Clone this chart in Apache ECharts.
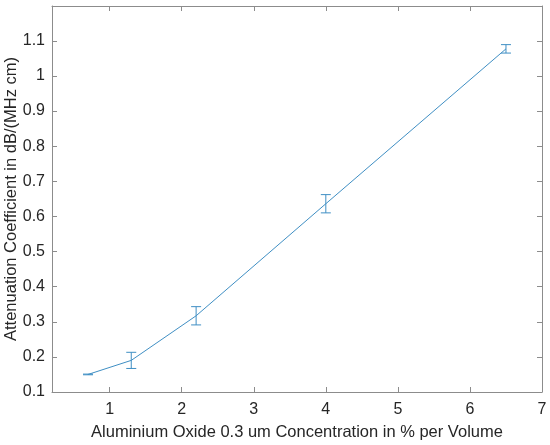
<!DOCTYPE html>
<html>
<head>
<meta charset="utf-8">
<script src="https://cdn.jsdelivr.net/npm/echarts@6/dist/echarts.min.js"></script>
<style>
  html, body { margin: 0; padding: 0; background: #fff; }
  #chart { width: 550px; height: 445px; }
</style>
</head>
<body>
<div id="chart"></div>
<script>
// concentration (% per volume) and attenuation with error bars
var concentration = [0.7, 1.3, 2.2, 4.0, 6.5];
var attenuation = [0.15, 0.19, 0.317, 0.636, 1.077];
var errorSize = [0.001, 0.023, 0.026, 0.026, 0.012];

var xTicks = [1, 2, 3, 4, 5, 6, 7];
var yTicks = [0.1, 0.2, 0.3, 0.4, 0.5, 0.6, 0.7, 0.8, 0.9, 1, 1.1];

var lineColor = '#3f8fc4';
var boxColor = '#8c8c8c';
var textColor = '#262626';
var font = 'Liberation Sans, Arial, sans-serif';

var myChart = echarts.init(document.getElementById('chart'));

var pointData = concentration.map(function (x, i) { return [x, attenuation[i]]; });
var errData = concentration.map(function (x, i) {
  return [x, attenuation[i] - errorSize[i], attenuation[i] + errorSize[i]];
});

function baseX(pos, labels) {
  return {
    type: 'value', position: pos, min: 0.2, max: 7,
    splitLine: { show: false },
    axisLine: { show: true, onZero: false, lineStyle: { color: boxColor, width: 1 } },
    axisTick: { show: true, inside: true, length: 5, customValues: xTicks, lineStyle: { color: boxColor } },
    axisLabel: {
      show: labels, customValues: xTicks, margin: 10,
      color: textColor, fontSize: 16, fontFamily: font
    }
  };
}
function baseY(pos, labels) {
  return {
    type: 'value', position: pos, min: 0.1, max: 1.199,
    splitLine: { show: false },
    axisLine: { show: true, onZero: false, lineStyle: { color: boxColor, width: 1 } },
    axisTick: { show: true, inside: true, length: 5, customValues: yTicks, lineStyle: { color: boxColor } },
    axisLabel: {
      show: labels, customValues: yTicks, margin: 7,
      color: textColor, fontSize: 16, fontFamily: font,
      formatter: function (v) { return String(Math.round(v * 10) / 10); }
    }
  };
}

var xMain = baseX('bottom', true);
xMain.name = 'Aluminium Oxide 0.3 um Concentration in % per Volume';
xMain.nameLocation = 'middle';
xMain.nameGap = 32;
xMain.nameMoveOverlap = false;
xMain.nameTextStyle = { color: textColor, fontSize: 16.5, fontFamily: font };

var yMain = baseY('left', true);
yMain.name = 'Attenuation Coefficient in dB/(MHz cm)';
yMain.nameLocation = 'middle';
yMain.nameGap = 32;
yMain.nameMoveOverlap = false;
yMain.nameTextStyle = { color: textColor, fontSize: 16.5, fontFamily: font };

var option = {
  animation: false,
  backgroundColor: '#fff',
  grid: { left: 52, right: 8, top: 6, bottom: 53, containLabel: false, outerBoundsMode: 'none' },
  xAxis: [xMain, baseX('top', false)],
  yAxis: [yMain, baseY('right', false)],
  series: [
    {
      type: 'line',
      data: pointData,
      symbol: 'none',
      lineStyle: { color: lineColor, width: 1 }
    },
    {
      type: 'custom',
      data: errData,
      encode: { x: 0, y: [1, 2] },
      renderItem: function (params, api) {
        var x = api.value(0);
        var lo = api.coord([x, api.value(1)]);
        var hi = api.coord([x, api.value(2)]);
        var w = 5;
        var st = { stroke: lineColor, lineWidth: 1 };
        return {
          type: 'group',
          children: [
            { type: 'line', shape: { x1: lo[0], y1: lo[1], x2: hi[0], y2: hi[1] }, style: st },
            { type: 'line', shape: { x1: lo[0] - w, y1: lo[1], x2: lo[0] + w, y2: lo[1] }, style: st },
            { type: 'line', shape: { x1: hi[0] - w, y1: hi[1], x2: hi[0] + w, y2: hi[1] }, style: st }
          ]
        };
      }
    }
  ]
};

myChart.setOption(option);
</script>
</body>
</html>
